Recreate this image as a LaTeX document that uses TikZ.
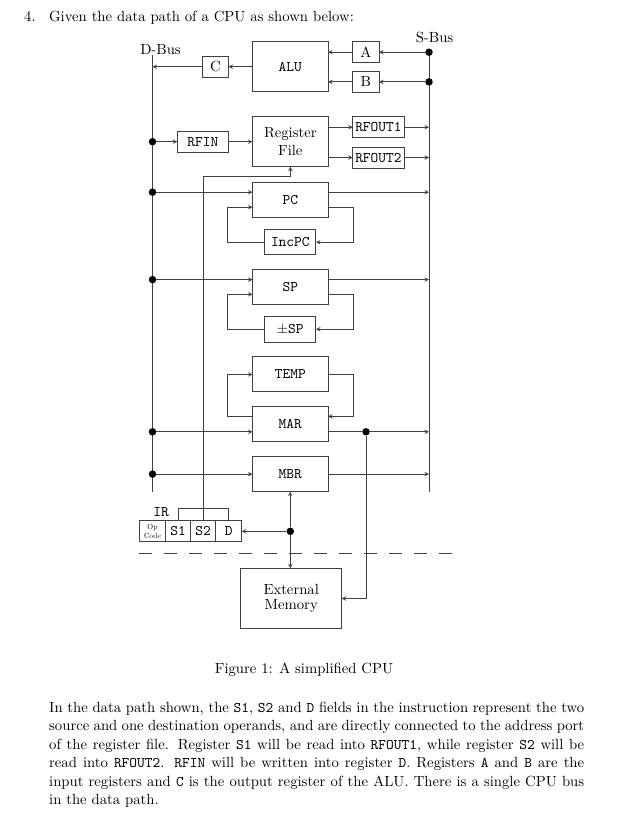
\documentclass[tikz,border=0pt]{standalone}
\usepackage{amsmath,amssymb}
\usepackage{fontspec}
\setmainfont{lmroman10-regular.otf}
\setmonofont{lmmono10-regular.otf}
\usepackage{tikz}
\usepackage{xcolor}
\usetikzlibrary{arrows,positioning,calc}
\definecolor{linegray}{gray}{0.25}
\begin{document}
\begin{tikzpicture}[
        x=1pt, y=-1pt,
        font=\fontsize{14.7}{18.4}\selectfont,
        line/.style={draw=linegray, line width=1pt},
        arrow/.style={->, >=stealth, line width=1pt, linegray},
        regbox/.style={rectangle, draw=linegray, line width=1pt, inner sep=0pt, outer sep=0pt, minimum width=75.5pt, minimum height=35pt, align=center, font=\fontsize{14.7}{18.4}\selectfont\ttfamily},
        smallbox/.style={regbox, minimum width=26.3pt, minimum height=21pt},
        widebox/.style={regbox, minimum width=51.3pt, minimum height=21pt},
        irbox/.style={regbox, minimum width=25pt, minimum height=20.7pt},
        dot/.style={circle, fill=black, inner sep=0pt, minimum size=7.5pt}
    ]
        \useasboundingbox (0,0) rectangle (617,817);

        \node[anchor=base west, inner sep=0pt] (num) at (24,21) {4.};
        \node[anchor=base west, inner sep=0pt] (title) at (49,21) {Given the data path of a CPU as shown below:};
        \node (dlabel) at (160.5,50) {D-Bus};
        \node (slabel) at (434.5,37) {S-Bus};

        \coordinate (dtop) at (152.5,55);
        \coordinate (dbot) at (152.5,492);
        \coordinate (stop) at (429,52);
        \coordinate (sbot) at (429,492);
        \coordinate (loopl) at (227.7,300);
        \coordinate (loopr) at (353.3,300);
        \coordinate (addrline) at (366,300);

        \node[regbox, minimum height=50pt] (alu) at (290.3,66.7) {ALU};
        \node[regbox, minimum height=50pt, below=25pt of alu, font=\fontsize{14.7}{18}\selectfont] (reg) {Register\\File};
        \node[regbox, below=15.5pt of reg] (pc) {PC};
        \node[widebox, minimum height=25.3pt, below=12.3pt of pc] (incpc) {IncPC};
        \node[regbox, below=14.7pt of incpc] (sp) {SP};
        \node[widebox, minimum height=26pt, below=11.7pt of sp] (incsp) {$\pm$SP};
        \node[regbox, below=14.7pt of incsp] (temp) {TEMP};
        \node[regbox, below=14.7pt of temp] (mar) {MAR};
        \node[regbox, below=15pt of mar] (mbr) {MBR};

        \node[smallbox, below right=0pt and 24.7pt of alu.north east, font=\fontsize{14.7}{18.4}\selectfont] (rega) {A};
        \node[smallbox, below=8.7pt of rega, font=\fontsize{14.7}{18.4}\selectfont] (regb) {B};
        \node[smallbox, left=24pt of alu, font=\fontsize{14.7}{18.4}\selectfont] (regc) {C};
        \node[widebox, left=24pt of reg] (rfin) {RFIN};
        \node[widebox, below right=0pt and 24.7pt of reg.north east] (rfoutone) {RFOUT1};
        \node[widebox, below=9.4pt of rfoutone] (rfouttwo) {RFOUT2};

        \node[irbox, minimum width=26.4pt, font=\fontsize{7.5}{8.5}\selectfont] (opcode) at (152.5,531.3) {Op\\Code};
        \node[irbox, right=0pt of opcode] (sone) {S1};
        \node[irbox, right=0pt of sone] (stwo) {S2};
        \node[irbox, minimum width=26pt, right=0pt of stwo] (dest) {D};
        \node[font=\fontsize{14.7}{18.4}\selectfont\ttfamily] (irlabel) at (161,512) {IR};

        \node[regbox, minimum width=101pt, minimum height=60.4pt, font=\fontsize{14.7}{14.5}\selectfont] (ext) at (291.2,598.5) {External\\Memory};

        \node (caption) at (304,670) {Figure 1: A simplified CPU};
        \node[anchor=north west, text width=535pt, align=justify, inner sep=0pt] (para) at (49,702) {In the data path shown, the \texttt{S1}, \texttt{S2} and \texttt{D} fields in the instruction represent the two\linebreak
        source and one destination operands, and are directly connected to the address port\linebreak
        of the register file. Register \texttt{S1} will be read into \texttt{RFOUT1}, while register \texttt{S2} will be\linebreak
        read into \texttt{RFOUT2}. \texttt{RFIN} will be written into register \texttt{D}. Registers \texttt{A} and \texttt{B} are the\linebreak
        input registers and \texttt{C} is the output register of the ALU. There is a single CPU bus\linebreak
        in the data path.};

        % the two buses
        \draw[line] (dtop) -- (dbot);
        \draw[line] (stop) -- (sbot);

        % offsets of the side lines on the tall boxes
        \coordinate (pcup) at ($(pc.center)+(0,-7.5)$);
        \coordinate (pcdown) at ($(pc.center)+(0,7.5)$);
        \coordinate (spup) at ($(sp.center)+(0,-7.4)$);
        \coordinate (spdown) at ($(sp.center)+(0,7.3)$);
        \coordinate (marup) at ($(mar.center)+(0,-7.7)$);
        \coordinate (mardown) at ($(mar.center)+(0,7.7)$);

        \node[dot] (adot) at (stop |- rega) {};
        \node[dot] (bdot) at (stop |- regb) {};
        \node[dot] (rfdot) at (dtop |- rfin) {};
        \node[dot] (pcdot) at (dtop |- pcup) {};
        \node[dot] (spdot) at (dtop |- spup) {};
        \node[dot] (mardot) at (dtop |- mardown) {};
        \node[dot] (mbrdot) at (dtop |- mbr) {};
        \node[dot] (addrdot) at (addrline |- mardown) {};
        \node[dot] (irdot) at (mbr.south |- dest) {};

        \draw[arrow] (adot) -- (rega);
        \draw[arrow] (bdot) -- (regb);
        \draw[arrow] (rega) -- (rega -| alu.east);
        \draw[arrow] (regb) -- (regb -| alu.east);
        \draw[arrow] (alu) -- (regc);
        \draw[arrow] (regc) -- (regc -| dtop);

        \draw[arrow] (rfdot) -- (rfin);
        \draw[arrow] (rfin) -- (reg);
        \draw[arrow] (rfoutone -| reg.east) -- (rfoutone);
        \draw[arrow] (rfouttwo -| reg.east) -- (rfouttwo);
        \draw[arrow] (rfoutone) -- (rfoutone -| stop);
        \draw[arrow] (rfouttwo) -- (rfouttwo -| stop);

        \draw[arrow] (pcdot) -- (pcup -| pc.west);
        \draw[arrow] (pcup -| pc.east) -- (pcup -| stop);
        \draw[arrow] (pcdown -| pc.east) -- (pcdown -| loopr) |- (incpc);
        \draw[arrow] (incpc) -- (incpc -| loopl) |- (pcdown -| pc.west);

        \draw[arrow] (spdot) -- (spup -| sp.west);
        \draw[arrow] (spup -| sp.east) -- (spup -| stop);
        \draw[arrow] (spdown -| sp.east) -- (spdown -| loopr) |- (incsp);
        \draw[arrow] (incsp) -- (incsp -| loopl) |- (spdown -| sp.west);

        \draw[arrow] (temp.east) -- (temp -| loopr) |- (marup -| mar.east);
        \draw[arrow] (marup -| mar.west) -- (marup -| loopl) |- (temp.west);

        \draw[arrow] (mardot) -- (mardown -| mar.west);
        \draw[line] (mardown -| mar.east) -- (addrdot);
        \draw[arrow] (addrdot) -- (mardown -| stop);
        \draw[arrow] (mbrdot) -- (mbr);
        \draw[arrow] (mbr) -- (mbr -| stop);

        % register addresses from the IR
        \coordinate (regturn) at (290.3,176);
        \coordinate (irturn) at (228.7,508.7);
        \draw[arrow] (stwo.north) |- (regturn) -- (reg.south);
        \draw[line] (sone.north) |- (irturn -| dest.north) -- (dest.north);

        % memory side
        \draw[arrow] (irdot) -- (mbr.south);
        \draw[arrow] (irdot) -- (dest);
        \draw[arrow] (irdot) -- (irdot |- ext.north);
        \draw[arrow] (addrdot) |- (ext.east);

        \coordinate (dashl) at (139,553.3);
        \coordinate (dashr) at (455,553.3);
        \draw[line, dash pattern=on 13pt off 12pt] (dashl) -- (dashr);
    \end{tikzpicture}
\end{document}
